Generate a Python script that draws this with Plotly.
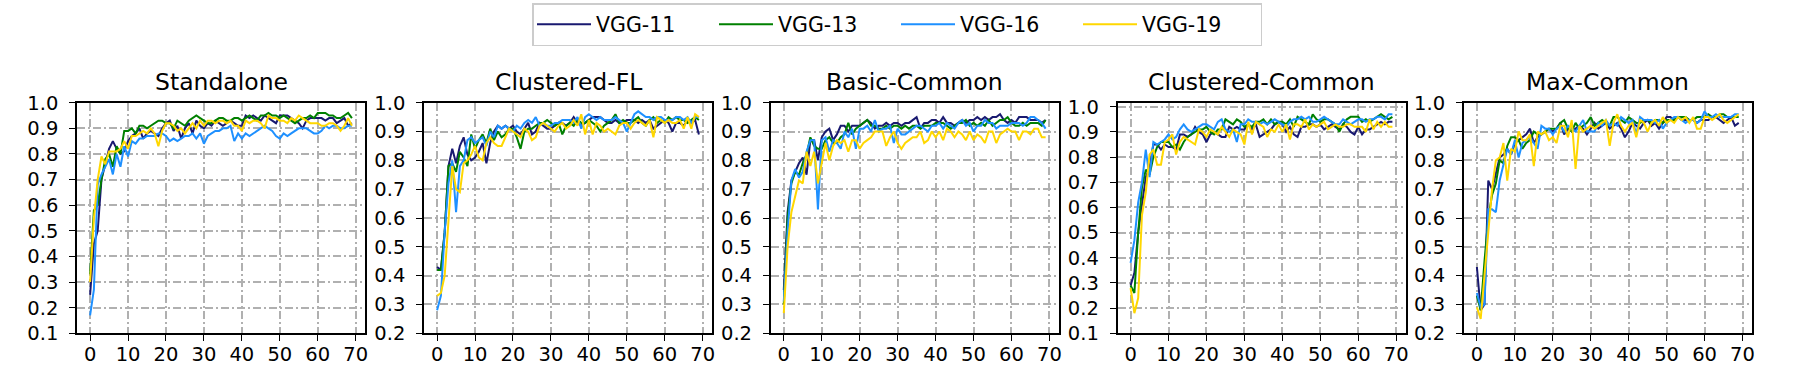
import plotly.graph_objects as go

epochs = list(range(70))
series_names = ["VGG-11", "VGG-13", "VGG-16", "VGG-19"]
series_colors = ["#191970", "#008000", "#1E90FF", "#FFD700"]
panel_titles = ["Standalone", "Clustered-FL", "Basic-Common", "Clustered-Common", "Max-Common"]
y_ranges = [[0.1, 1.0], [0.2, 1.0], [0.2, 1.0], [0.1, 1.016], [0.2, 1.0]]
x_ticks = [0, 10, 20, 30, 40, 50, 60, 70]

# ---------------- Standalone ----------------
standalone_vgg11 = [0.25, 0.45, 0.50, 0.70, 0.76, 0.82, 0.85, 0.82, 0.80, 0.81,
                    0.85, 0.87, 0.88, 0.90, 0.86, 0.88, 0.89, 0.88, 0.87, 0.90,
                    0.92, 0.93, 0.89, 0.91, 0.86, 0.90, 0.92, 0.88, 0.93, 0.91,
                    0.90, 0.92, 0.91, 0.93, 0.92, 0.91, 0.92, 0.93, 0.92, 0.91,
                    0.91, 0.95, 0.94, 0.95, 0.94, 0.93, 0.95, 0.94, 0.93, 0.92,
                    0.95, 0.95, 0.95, 0.94, 0.93, 0.92, 0.90, 0.93, 0.94, 0.94,
                    0.94, 0.94, 0.93, 0.94, 0.94, 0.92, 0.93, 0.94, 0.91, 0.92]
standalone_vgg13 = [0.33, 0.58, 0.60, 0.70, 0.78, 0.80, 0.75, 0.83, 0.80, 0.89,
                    0.89, 0.90, 0.88, 0.91, 0.91, 0.90, 0.91, 0.92, 0.93, 0.93,
                    0.92, 0.92, 0.90, 0.93, 0.92, 0.91, 0.93, 0.94, 0.95, 0.94,
                    0.93, 0.92, 0.92, 0.93, 0.94, 0.94, 0.93, 0.93, 0.94, 0.94,
                    0.93, 0.94, 0.95, 0.94, 0.93, 0.95, 0.95, 0.96, 0.95, 0.95,
                    0.94, 0.95, 0.94, 0.93, 0.92, 0.93, 0.94, 0.94, 0.95, 0.94,
                    0.96, 0.96, 0.96, 0.95, 0.95, 0.94, 0.94, 0.95, 0.96, 0.94]
standalone_vgg16 = [0.17, 0.27, 0.68, 0.72, 0.75, 0.78, 0.72, 0.80, 0.75, 0.83,
                    0.79, 0.85, 0.84, 0.86, 0.86, 0.87, 0.87, 0.87, 0.88, 0.88,
                    0.87, 0.85, 0.86, 0.85, 0.86, 0.87, 0.87, 0.88, 0.86, 0.88,
                    0.84, 0.87, 0.88, 0.89, 0.89, 0.90, 0.90, 0.91, 0.85, 0.88,
                    0.86, 0.88, 0.87, 0.88, 0.89, 0.90, 0.91, 0.90, 0.89, 0.87,
                    0.86, 0.88, 0.87, 0.88, 0.89, 0.90, 0.90, 0.90, 0.89, 0.88,
                    0.88, 0.89, 0.91, 0.90, 0.91, 0.91, 0.90, 0.90, 0.91, 0.91]
standalone_vgg19 = [0.30, 0.55, 0.70, 0.79, 0.76, 0.81, 0.81, 0.81, 0.82, 0.85,
                    0.82, 0.87, 0.87, 0.88, 0.89, 0.88, 0.90, 0.88, 0.83, 0.89,
                    0.92, 0.92, 0.91, 0.89, 0.90, 0.88, 0.90, 0.92, 0.90, 0.93,
                    0.91, 0.93, 0.93, 0.92, 0.93, 0.93, 0.92, 0.93, 0.91, 0.91,
                    0.89, 0.93, 0.92, 0.93, 0.93, 0.92, 0.90, 0.95, 0.94, 0.94,
                    0.93, 0.93, 0.92, 0.94, 0.93, 0.95, 0.94, 0.93, 0.92, 0.92,
                    0.92, 0.91, 0.91, 0.92, 0.92, 0.91, 0.89, 0.91, 0.94, 0.91]

# ---------------- Clustered-FL ----------------
clustered_fl_vgg11 = [0.43, 0.42, 0.55, 0.78, 0.84, 0.79, 0.85, 0.88, 0.82, 0.80,
                      0.81, 0.83, 0.86, 0.79, 0.86, 0.90, 0.92, 0.91, 0.92, 0.91,
                      0.92, 0.90, 0.89, 0.91, 0.93, 0.89, 0.90, 0.93, 0.92, 0.91,
                      0.91, 0.92, 0.93, 0.93, 0.92, 0.93, 0.95, 0.93, 0.92, 0.93,
                      0.94, 0.95, 0.95, 0.95, 0.94, 0.93, 0.93, 0.94, 0.93, 0.93,
                      0.94, 0.94, 0.94, 0.93, 0.94, 0.93, 0.94, 0.91, 0.92, 0.93,
                      0.94, 0.93, 0.90, 0.93, 0.93, 0.92, 0.94, 0.93, 0.94, 0.89]
clustered_fl_vgg13 = [0.42, 0.42, 0.55, 0.78, 0.79, 0.76, 0.83, 0.81, 0.78, 0.89,
                      0.84, 0.87, 0.89, 0.86, 0.91, 0.87, 0.90, 0.88, 0.89, 0.91,
                      0.91, 0.88, 0.84, 0.90, 0.91, 0.91, 0.92, 0.93, 0.93, 0.94,
                      0.93, 0.92, 0.93, 0.89, 0.92, 0.93, 0.92, 0.94, 0.93, 0.93,
                      0.94, 0.93, 0.92, 0.90, 0.92, 0.93, 0.94, 0.96, 0.93, 0.94,
                      0.93, 0.93, 0.94, 0.95, 0.93, 0.92, 0.94, 0.95, 0.93, 0.94,
                      0.93, 0.95, 0.94, 0.95, 0.94, 0.94, 0.93, 0.94, 0.95, 0.94]
clustered_fl_vgg16 = [0.28, 0.33, 0.55, 0.72, 0.80, 0.62, 0.78, 0.80, 0.87, 0.88,
                      0.86, 0.87, 0.88, 0.85, 0.90, 0.88, 0.92, 0.91, 0.92, 0.91,
                      0.90, 0.92, 0.91, 0.93, 0.94, 0.93, 0.95, 0.92, 0.93, 0.92,
                      0.92, 0.93, 0.93, 0.94, 0.94, 0.94, 0.93, 0.95, 0.91, 0.95,
                      0.96, 0.95, 0.94, 0.95, 0.94, 0.94, 0.94, 0.95, 0.94, 0.93,
                      0.90, 0.93, 0.96, 0.97, 0.96, 0.95, 0.95, 0.94, 0.95, 0.95,
                      0.94, 0.94, 0.94, 0.95, 0.95, 0.94, 0.95, 0.93, 0.95, 0.95]
clustered_fl_vgg19 = [0.33, 0.34, 0.40, 0.60, 0.78, 0.70, 0.69, 0.79, 0.80, 0.82,
                      0.85, 0.81, 0.80, 0.86, 0.88, 0.86, 0.85, 0.85, 0.88, 0.91,
                      0.90, 0.89, 0.88, 0.91, 0.90, 0.87, 0.88, 0.92, 0.93, 0.92,
                      0.91, 0.90, 0.92, 0.93, 0.91, 0.92, 0.94, 0.92, 0.96, 0.89,
                      0.94, 0.89, 0.93, 0.92, 0.90, 0.91, 0.90, 0.89, 0.92, 0.93,
                      0.93, 0.91, 0.93, 0.94, 0.93, 0.92, 0.94, 0.88, 0.95, 0.94,
                      0.93, 0.94, 0.93, 0.93, 0.94, 0.91, 0.95, 0.91, 0.96, 0.95]

# ---------------- Basic-Common ----------------
basic_common_vgg11 = [0.35, 0.62, 0.73, 0.76, 0.79, 0.81, 0.75, 0.87, 0.87, 0.80,
                      0.88, 0.90, 0.91, 0.87, 0.89, 0.92, 0.92, 0.90, 0.92, 0.92,
                      0.92, 0.93, 0.94, 0.93, 0.91, 0.92, 0.92, 0.93, 0.92, 0.93,
                      0.93, 0.92, 0.93, 0.93, 0.94, 0.95, 0.91, 0.93, 0.93, 0.94,
                      0.94, 0.93, 0.95, 0.93, 0.93, 0.92, 0.93, 0.94, 0.93, 0.94,
                      0.94, 0.95, 0.94, 0.95, 0.94, 0.95, 0.95, 0.96, 0.94, 0.93,
                      0.94, 0.93, 0.95, 0.95, 0.95, 0.94, 0.94, 0.94, 0.93, 0.94]
basic_common_vgg13 = [0.30, 0.60, 0.72, 0.76, 0.75, 0.79, 0.82, 0.88, 0.85, 0.84,
                      0.84, 0.87, 0.88, 0.86, 0.86, 0.88, 0.89, 0.93, 0.89, 0.91,
                      0.92, 0.93, 0.94, 0.92, 0.92, 0.91, 0.91, 0.92, 0.91, 0.92,
                      0.92, 0.91, 0.92, 0.91, 0.92, 0.92, 0.91, 0.92, 0.92, 0.92,
                      0.93, 0.93, 0.93, 0.92, 0.91, 0.92, 0.93, 0.93, 0.94, 0.92,
                      0.93, 0.92, 0.93, 0.92, 0.94, 0.92, 0.93, 0.94, 0.94, 0.95,
                      0.93, 0.92, 0.92, 0.93, 0.92, 0.93, 0.93, 0.93, 0.92, 0.94]
basic_common_vgg16 = [0.31, 0.55, 0.73, 0.77, 0.74, 0.76, 0.83, 0.87, 0.87, 0.63,
                      0.87, 0.88, 0.83, 0.87, 0.86, 0.84, 0.90, 0.88, 0.91, 0.84,
                      0.91, 0.91, 0.92, 0.90, 0.94, 0.90, 0.91, 0.91, 0.92, 0.86,
                      0.91, 0.89, 0.89, 0.90, 0.91, 0.92, 0.92, 0.91, 0.90, 0.92,
                      0.92, 0.93, 0.91, 0.93, 0.92, 0.91, 0.93, 0.94, 0.92, 0.93,
                      0.90, 0.92, 0.92, 0.94, 0.93, 0.93, 0.91, 0.92, 0.92, 0.92,
                      0.93, 0.93, 0.93, 0.92, 0.93, 0.95, 0.95, 0.94, 0.93, 0.91]
basic_common_vgg19 = [0.27, 0.50, 0.62, 0.67, 0.73, 0.72, 0.83, 0.78, 0.83, 0.72,
                      0.79, 0.86, 0.80, 0.85, 0.87, 0.86, 0.87, 0.83, 0.87, 0.87,
                      0.84, 0.86, 0.87, 0.88, 0.90, 0.90, 0.90, 0.85, 0.88, 0.90,
                      0.86, 0.84, 0.86, 0.87, 0.88, 0.88, 0.90, 0.86, 0.87, 0.90,
                      0.88, 0.90, 0.87, 0.91, 0.90, 0.88, 0.90, 0.89, 0.87, 0.90,
                      0.87, 0.89, 0.88, 0.86, 0.90, 0.90, 0.86, 0.89, 0.90, 0.91,
                      0.90, 0.90, 0.87, 0.90, 0.90, 0.89, 0.91, 0.91, 0.88, 0.88]

# ---------------- Clustered-Common ----------------
clustered_common_vgg11 = [0.29, 0.34, 0.50, 0.62, 0.72, 0.76, 0.85, 0.85, 0.83, 0.85,
                          0.84, 0.84, 0.83, 0.89, 0.89, 0.88, 0.89, 0.92, 0.90, 0.89,
                          0.86, 0.89, 0.90, 0.89, 0.88, 0.88, 0.92, 0.91, 0.92, 0.91,
                          0.91, 0.93, 0.91, 0.93, 0.88, 0.89, 0.90, 0.91, 0.93, 0.94,
                          0.93, 0.90, 0.92, 0.89, 0.88, 0.92, 0.92, 0.93, 0.93, 0.92,
                          0.93, 0.91, 0.92, 0.93, 0.92, 0.91, 0.93, 0.92, 0.90, 0.89,
                          0.92, 0.89, 0.91, 0.91, 0.92, 0.93, 0.94, 0.93, 0.94, 0.94]
clustered_common_vgg13 = [0.29, 0.26, 0.50, 0.68, 0.75, 0.73, 0.80, 0.84, 0.86, 0.86,
                          0.86, 0.84, 0.85, 0.83, 0.86, 0.88, 0.89, 0.90, 0.91, 0.91,
                          0.92, 0.90, 0.89, 0.91, 0.91, 0.95, 0.94, 0.93, 0.95, 0.94,
                          0.92, 0.93, 0.92, 0.94, 0.94, 0.95, 0.93, 0.95, 0.93, 0.94,
                          0.94, 0.93, 0.95, 0.92, 0.96, 0.95, 0.94, 0.93, 0.97, 0.95,
                          0.94, 0.95, 0.95, 0.94, 0.93, 0.90, 0.93, 0.95, 0.96, 0.96,
                          0.96, 0.94, 0.95, 0.94, 0.95, 0.96, 0.97, 0.96, 0.95, 0.96]
clustered_common_vgg16 = [0.38, 0.47, 0.62, 0.70, 0.83, 0.72, 0.86, 0.85, 0.86, 0.87,
                          0.89, 0.87, 0.88, 0.91, 0.93, 0.91, 0.90, 0.91, 0.92, 0.93,
                          0.93, 0.92, 0.91, 0.94, 0.95, 0.91, 0.90, 0.91, 0.86, 0.93,
                          0.93, 0.95, 0.94, 0.94, 0.93, 0.94, 0.93, 0.94, 0.95, 0.94,
                          0.93, 0.92, 0.94, 0.95, 0.95, 0.96, 0.95, 0.96, 0.94, 0.94,
                          0.95, 0.96, 0.95, 0.94, 0.93, 0.93, 0.95, 0.94, 0.93, 0.94,
                          0.95, 0.95, 0.94, 0.95, 0.95, 0.96, 0.96, 0.95, 0.97, 0.97]
clustered_common_vgg19 = [0.28, 0.18, 0.24, 0.57, 0.66, 0.81, 0.83, 0.77, 0.77, 0.86,
                          0.87, 0.89, 0.81, 0.86, 0.88, 0.87, 0.86, 0.85, 0.91, 0.90,
                          0.88, 0.91, 0.90, 0.89, 0.92, 0.90, 0.88, 0.91, 0.90, 0.89,
                          0.85, 0.94, 0.89, 0.94, 0.93, 0.92, 0.88, 0.91, 0.90, 0.93,
                          0.90, 0.93, 0.87, 0.93, 0.93, 0.92, 0.95, 0.91, 0.93, 0.92,
                          0.93, 0.94, 0.91, 0.92, 0.93, 0.92, 0.92, 0.93, 0.93, 0.92,
                          0.92, 0.92, 0.90, 0.95, 0.91, 0.94, 0.92, 0.94, 0.92, 0.92]

# ---------------- Max-Common ----------------
max_common_vgg11 = [0.43, 0.28, 0.30, 0.73, 0.70, 0.75, 0.81, 0.82, 0.84, 0.82,
                    0.86, 0.87, 0.88, 0.89, 0.91, 0.86, 0.88, 0.89, 0.90, 0.91,
                    0.90, 0.91, 0.93, 0.89, 0.91, 0.90, 0.91, 0.92, 0.91, 0.89,
                    0.91, 0.93, 0.91, 0.92, 0.93, 0.91, 0.92, 0.93, 0.91, 0.88,
                    0.90, 0.93, 0.92, 0.91, 0.93, 0.94, 0.92, 0.93, 0.91, 0.93,
                    0.95, 0.95, 0.94, 0.95, 0.94, 0.94, 0.94, 0.94, 0.93, 0.94,
                    0.94, 0.94, 0.95, 0.95, 0.94, 0.93, 0.94, 0.95, 0.92, 0.93]
max_common_vgg13 = [0.33, 0.28, 0.45, 0.60, 0.68, 0.72, 0.80, 0.79, 0.85, 0.88,
                    0.88, 0.87, 0.84, 0.86, 0.87, 0.90, 0.89, 0.89, 0.90, 0.91,
                    0.91, 0.91, 0.93, 0.94, 0.91, 0.90, 0.93, 0.91, 0.92, 0.93,
                    0.95, 0.92, 0.93, 0.94, 0.93, 0.92, 0.95, 0.95, 0.94, 0.93,
                    0.95, 0.94, 0.93, 0.93, 0.94, 0.94, 0.93, 0.94, 0.94, 0.93,
                    0.94, 0.94, 0.94, 0.95, 0.95, 0.95, 0.94, 0.94, 0.95, 0.95,
                    0.95, 0.96, 0.95, 0.95, 0.96, 0.96, 0.95, 0.95, 0.95, 0.95]
max_common_vgg16 = [0.34, 0.29, 0.30, 0.63, 0.63, 0.62, 0.73, 0.78, 0.84, 0.82,
                    0.87, 0.81, 0.86, 0.87, 0.88, 0.86, 0.84, 0.92, 0.91, 0.91,
                    0.89, 0.91, 0.92, 0.90, 0.92, 0.91, 0.90, 0.92, 0.94, 0.90,
                    0.90, 0.90, 0.93, 0.92, 0.94, 0.92, 0.93, 0.92, 0.95, 0.94,
                    0.93, 0.94, 0.89, 0.95, 0.94, 0.94, 0.94, 0.93, 0.94, 0.91,
                    0.93, 0.94, 0.95, 0.95, 0.94, 0.93, 0.94, 0.94, 0.93, 0.94,
                    0.97, 0.95, 0.95, 0.96, 0.95, 0.95, 0.95, 0.95, 0.96, 0.96]
max_common_vgg19 = [0.29, 0.25, 0.40, 0.55, 0.70, 0.80, 0.81, 0.86, 0.73, 0.84,
                    0.83, 0.90, 0.87, 0.87, 0.89, 0.78, 0.90, 0.89, 0.90, 0.87,
                    0.88, 0.86, 0.92, 0.92, 0.88, 0.94, 0.77, 0.92, 0.90, 0.91,
                    0.92, 0.91, 0.92, 0.93, 0.94, 0.85, 0.93, 0.96, 0.92, 0.90,
                    0.92, 0.93, 0.88, 0.94, 0.93, 0.90, 0.93, 0.94, 0.92, 0.95,
                    0.93, 0.94, 0.93, 0.95, 0.94, 0.95, 0.93, 0.95, 0.91, 0.91,
                    0.95, 0.95, 0.94, 0.95, 0.96, 0.94, 0.93, 0.94, 0.95, 0.96]

panels = [
    [standalone_vgg11, standalone_vgg13, standalone_vgg16, standalone_vgg19],
    [clustered_fl_vgg11, clustered_fl_vgg13, clustered_fl_vgg16, clustered_fl_vgg19],
    [basic_common_vgg11, basic_common_vgg13, basic_common_vgg16, basic_common_vgg19],
    [clustered_common_vgg11, clustered_common_vgg13, clustered_common_vgg16, clustered_common_vgg19],
    [max_common_vgg11, max_common_vgg13, max_common_vgg16, max_common_vgg19],
]

W, H = 1799, 386
FONT = "DejaVu Sans"
axes_left_px = [77, 424, 770.7, 1117.5, 1463.8]
axes_w_px = 288
axes_top_px, axes_bottom_px = 102.7, 333.3
y_dom = [1 - axes_bottom_px / H, 1 - axes_top_px / H]

fig = go.Figure()
layout = dict(
    width=W, height=H,
    margin=dict(l=0, r=0, t=0, b=0, autoexpand=False),
    paper_bgcolor="white", plot_bgcolor="white",
    font=dict(family=FONT, color="black", size=19.5),
    showlegend=True,
    legend=dict(
        orientation="h", x=897 / W, xanchor="center", y=1 - 3 / H, yanchor="top",
        bordercolor="#cccccc", borderwidth=1.5, bgcolor="white",
        font=dict(family=FONT, size=20.5, color="black"),
        entrywidth=113, entrywidthmode="pixels", itemwidth=54,
    ),
    annotations=[],
)

grid_style = dict(showgrid=True, gridcolor="#b0b0b0", gridwidth=1.5,
                  griddash="8px,3px,2px,3px")
axis_style = dict(showline=True, linecolor="black", linewidth=1.6, mirror=True,
                  ticks="outside", ticklen=6, tickwidth=1.4, tickcolor="black",
                  zeroline=False, automargin=False,
                  tickfont=dict(family=FONT, size=19.5, color="black"))

for p in range(5):
    sfx = "" if p == 0 else str(p + 1)
    x0 = axes_left_px[p] / W
    x1 = (axes_left_px[p] + axes_w_px) / W
    layout["xaxis" + sfx] = dict(domain=[x0, x1], anchor="y" + sfx,
                                 range=[-3.45, 72.45], tickvals=x_ticks,
                                 ticklabelstandoff=-4,
                                 **grid_style, **axis_style)
    layout["yaxis" + sfx] = dict(domain=y_dom, anchor="x" + sfx,
                                 range=y_ranges[p], dtick=0.1, tick0=0,
                                 tickformat=".1f", ticklabelstandoff=7,
                                 **grid_style, **axis_style)
    for s in range(4):
        fig.add_trace(go.Scatter(
            x=epochs, y=panels[p][s], mode="lines",
            name=series_names[s], legendgroup=series_names[s],
            showlegend=(p == 0),
            line=dict(color=series_colors[s], width=2),
            xaxis="x" + sfx, yaxis="y" + sfx,
        ))
    layout["annotations"].append(dict(
        text=panel_titles[p], x=(x0 + x1) / 2, y=1 - 82 / H,
        xref="paper", yref="paper", xanchor="center", yanchor="middle",
        showarrow=False, font=dict(family=FONT, size=23.5, color="black"),
    ))

fig.update_layout(**layout)
fig.write_html(
    "out.html",
    config={"displayModeBar": False},
    post_script="document.body.style.margin='0';document.body.style.overflow='hidden';",
)
